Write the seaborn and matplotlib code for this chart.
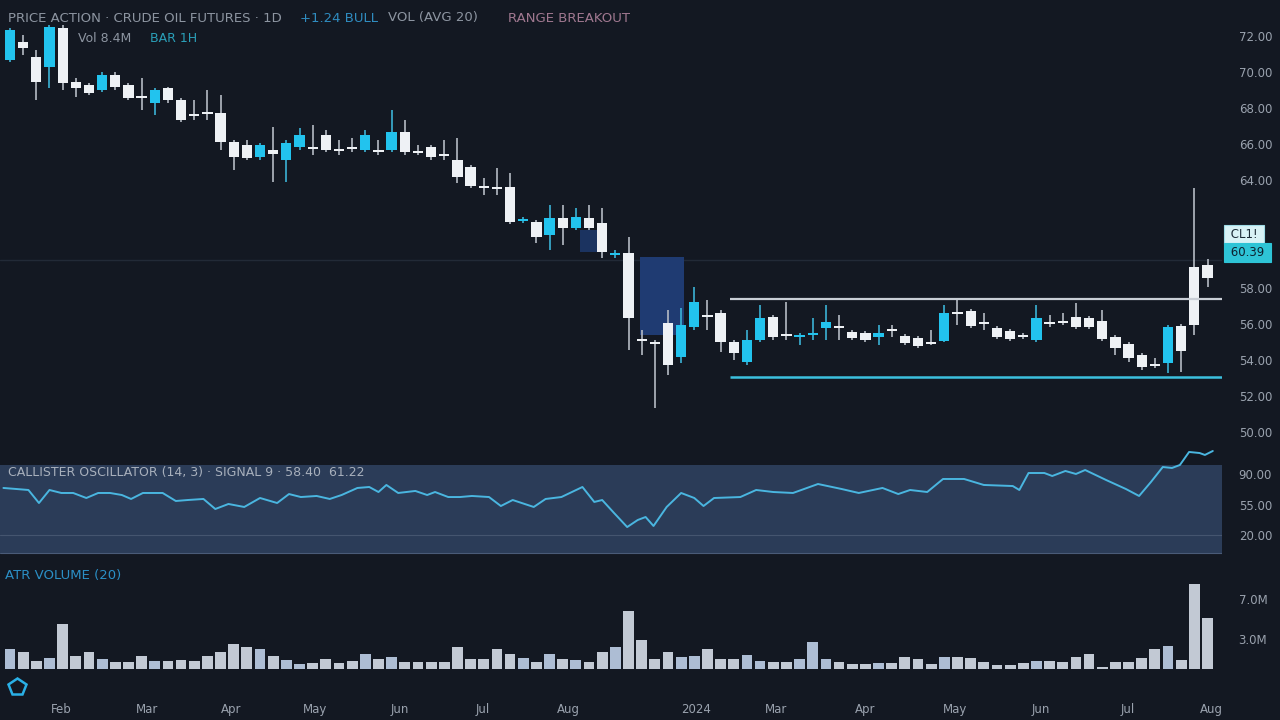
import numpy as np
import pandas as pd
import matplotlib
matplotlib.use("Agg")
import matplotlib.pyplot as plt
import matplotlib.transforms as mtransforms
from matplotlib.lines import Line2D
from matplotlib.patches import Rectangle
import seaborn as sns

# ---------------- data ----------------
opens = [70.67, 71.67, 70.83, 70.28, 72.44, 69.44, 69.28, 69.00, 69.83, 69.28,
         68.67, 68.28, 69.11, 68.44, 67.67, 67.78, 67.72, 66.11, 65.94, 65.28,
         65.67, 65.11, 65.83, 65.83, 66.50, 65.72, 65.83, 65.67, 65.67, 65.67,
         66.67, 65.61, 65.83, 65.44, 65.11, 64.72, 63.67, 63.61, 63.61, 61.72,
         61.67, 60.94, 61.89, 61.33, 61.89, 61.61, 59.83, 59.94, 55.17, 55.00,
         56.06, 54.17, 55.83, 56.50, 56.61, 55.00, 53.89, 55.11, 56.39, 55.44,
         55.28, 55.39, 55.78, 55.89, 55.56, 55.50, 55.28, 55.72, 55.33, 55.22,
         55.00, 55.06, 56.67, 56.72, 56.11, 55.78, 55.61, 55.39, 55.11, 56.11,
         56.17, 56.39, 56.33, 56.17, 55.28, 54.89, 54.28, 53.78, 53.83, 55.89,
         59.17, 59.28]
highs = [72.44, 72.06, 71.22, 72.61, 72.61, 69.67, 69.39, 70.00, 70.00, 69.39,
         69.67, 69.11, 69.17, 68.56, 68.44, 69.00, 68.72, 66.22, 66.22, 66.06,
         66.94, 66.22, 66.89, 67.06, 66.78, 66.22, 66.33, 66.78, 66.22, 67.89,
         67.33, 65.94, 65.94, 66.22, 66.33, 64.83, 64.11, 64.67, 64.39, 61.94,
         61.78, 62.61, 62.61, 62.44, 62.61, 62.44, 60.11, 60.83, 55.67, 55.11,
         56.78, 56.89, 58.06, 57.33, 56.78, 55.11, 55.67, 57.06, 56.50, 57.22,
         55.50, 56.33, 57.06, 56.50, 55.67, 55.61, 55.94, 55.94, 55.44, 55.33,
         55.67, 57.06, 57.33, 56.83, 56.61, 55.89, 55.72, 55.50, 57.06, 56.50,
         56.61, 57.17, 56.44, 56.78, 55.39, 55.00, 54.39, 54.11, 55.94, 56.00,
         63.56, 59.61]
lows = [70.56, 70.94, 68.44, 69.11, 69.00, 68.61, 68.72, 68.89, 69.00, 68.44,
        67.89, 67.61, 68.28, 67.22, 67.33, 67.33, 65.67, 64.56, 65.11, 65.11,
        63.89, 63.89, 65.67, 65.39, 65.56, 65.39, 65.56, 65.56, 65.39, 65.56,
        65.39, 65.39, 65.11, 65.11, 63.83, 63.56, 63.17, 63.17, 61.56, 61.61,
        60.50, 60.11, 60.39, 61.22, 61.22, 59.67, 59.67, 54.56, 54.28, 51.33,
        53.17, 53.83, 55.67, 55.67, 54.44, 54.00, 53.72, 55.00, 55.11, 55.11,
        54.83, 55.11, 55.11, 55.11, 55.11, 55.00, 54.83, 55.28, 54.83, 54.67,
        54.83, 55.00, 55.94, 55.78, 55.67, 55.17, 55.06, 55.17, 55.00, 55.83,
        55.94, 55.72, 55.72, 55.06, 54.28, 53.89, 53.44, 53.56, 53.28, 53.33,
        55.39, 58.06]
closes = [72.33, 71.33, 69.44, 72.50, 69.39, 69.11, 68.83, 69.83, 69.17, 68.56,
          68.56, 69.00, 68.44, 67.33, 67.56, 67.67, 66.11, 65.28, 65.22, 65.94,
          65.44, 66.06, 66.50, 65.72, 65.67, 65.61, 65.72, 66.50, 65.56, 66.67,
          65.56, 65.50, 65.28, 65.33, 64.17, 63.67, 63.56, 63.50, 61.67, 61.83,
          60.83, 61.89, 61.33, 61.94, 61.33, 60.00, 59.94, 56.33, 55.06, 54.89,
          53.72, 55.94, 57.22, 56.39, 55.00, 54.39, 55.11, 56.33, 55.28, 55.33,
          55.39, 55.50, 56.11, 55.78, 55.22, 55.11, 55.50, 55.61, 54.94, 54.78,
          54.89, 56.61, 56.56, 55.89, 56.00, 55.28, 55.17, 55.28, 56.33, 56.00,
          56.06, 55.83, 55.83, 55.17, 54.67, 54.11, 53.61, 53.67, 55.83, 54.50,
          55.94, 58.56]
volume_m = [2.0, 1.7, 0.8, 1.1, 4.5, 1.3, 1.7, 1.0, 0.7, 0.7,
            1.3, 0.8, 0.8, 0.9, 0.8, 1.3, 1.7, 2.5, 2.2, 2.0,
            1.3, 0.9, 0.5, 0.6, 1.0, 0.6, 0.8, 1.5, 1.0, 1.2,
            0.7, 0.7, 0.7, 0.7, 2.2, 1.0, 1.0, 2.0, 1.5, 1.1,
            0.7, 1.5, 1.0, 0.9, 0.7, 1.7, 2.2, 5.8, 2.9, 1.0,
            1.7, 1.2, 1.3, 2.0, 1.0, 1.0, 1.4, 0.8, 0.7, 0.7,
            1.0, 2.7, 1.0, 0.7, 0.5, 0.5, 0.6, 0.6, 1.2, 1.0,
            0.5, 1.2, 1.2, 1.1, 0.7, 0.4, 0.4, 0.6, 0.8, 0.8,
            0.7, 1.2, 1.5, 0.2, 0.7, 0.7, 1.1, 2.0, 2.3, 0.9,
            8.5, 5.1]
osc_pos = [-0.5, 0.5, 1.4, 2.2, 3.0, 3.9, 4.8, 5.8, 6.7, 7.6,
           8.5, 9.2, 10.1, 11.6, 12.6, 13.5, 14.7, 15.6, 16.6, 17.8,
           19.0, 20.3, 21.2, 22.1, 23.3, 24.3, 25.2, 26.4, 27.3, 28.0,
           28.6, 29.5, 30.8, 31.7, 32.3, 33.3, 34.2, 35.1, 36.4, 37.3,
           38.2, 39.8, 40.7, 41.9, 43.5, 44.4, 45.0, 45.9, 46.9, 47.7,
           48.3, 48.9, 49.9, 51.0, 52.0, 52.7, 53.5, 55.5, 56.7, 58.0,
           59.5, 61.4, 63.2, 64.5, 66.3, 67.5, 68.4, 69.7, 70.9, 72.5,
           74.0, 76.2, 76.7, 77.4, 78.6, 79.2, 80.2, 81.0, 81.7, 83.3,
           84.8, 85.8, 86.7, 87.6, 88.3, 88.9, 89.6, 90.4, 90.8, 91.4]
osc_vals = [73.9, 72.7, 71.6, 56.8, 71.6, 68.2, 68.2, 62.5, 68.2, 68.2,
            65.9, 61.4, 68.2, 68.2, 59.1, 60.2, 61.4, 50.0, 55.7, 52.3,
            62.5, 56.8, 67.0, 63.6, 64.8, 61.4, 65.9, 73.9, 75.0, 69.3,
            77.3, 68.2, 70.5, 65.9, 69.3, 63.6, 63.6, 64.8, 63.6, 53.4,
            60.2, 52.3, 61.4, 63.6, 75.0, 58.0, 60.2, 45.5, 29.5, 37.5,
            40.9, 30.7, 52.3, 68.2, 62.5, 53.4, 62.5, 63.6, 71.6, 69.3,
            68.2, 78.4, 72.7, 68.2, 73.9, 67.0, 71.6, 69.3, 84.1, 84.1,
            77.3, 76.1, 71.6, 90.9, 90.9, 87.5, 93.2, 89.8, 94.3, 82.9,
            72.7, 64.8, 80.7, 97.7, 96.6, 100.0, 114.8, 113.6, 111.4, 115.9]
date_pos = [3.9, 10.4, 16.8, 23.2, 29.6, 35.9, 42.4, 52.1, 58.2, 65.0, 71.8, 78.3, 84.9, 91.3]
date_labels = ["Feb", "Mar", "Apr", "May", "Jun", "Jul", "Aug", "2024",
               "Mar", "Apr", "May", "Jun", "Jul", "Aug"]
price_ticks = [50, 52, 54, 56, 58, 64, 66, 68, 70, 72]
osc_ticks = [20, 55, 90]
vol_ticks = [3.0, 7.0]
resistance = 57.39
support = 53.06
range_start = 54.7
ref_line = 59.56
zone_start = [43.3, 47.9]
zone_end = [44.6, 51.2]
zone_low = [60.00, 55.39]
zone_high = [61.22, 59.72]
last_price = 60.39

# ---------------- style ----------------
BG = "#131822"
TXT = "#9aa2ae"
WHITE = "#eef1f5"
CYAN = "#22c3ee"
sns.set_theme(style="dark", rc={"figure.facecolor": BG, "axes.facecolor": BG,
                                "axes.edgecolor": BG, "text.color": TXT,
                                "xtick.color": TXT, "ytick.color": TXT})
plt.rcParams['font.family'] = ['DejaVu Sans']

fig = plt.figure(figsize=(12.8, 7.2), dpi=100)
fig.patch.set_facecolor(BG)
W = 1222 / 1280
ax = fig.add_axes([0, 1 - 465 / 720, W, 465 / 720])
axi = fig.add_axes([0, 1 - 555 / 720, W, 115 / 720])
axv = fig.add_axes([0, 1 - 672 / 720, W, 117 / 720])
XL = (-0.76, 92.1)
for a in (ax, axi, axv):
    a.set_facecolor("none")
    for s in a.spines.values():
        s.set_visible(False)
    a.grid(False)

n = len(opens)
idx = np.arange(n)
o = np.array(opens); h = np.array(highs); l = np.array(lows); c = np.array(closes)
up = c > o
body_lo = np.minimum(o, c)
body_h = np.maximum(np.abs(c - o), 0.12)

# ---------------- price panel ----------------
ax.axhline(ref_line, color="#222a37", lw=1.0, zorder=0)
for x0, x1, y0, y1, col in zip(zone_start, zone_end, zone_low, zone_high, ["#1b3360", "#1f3b72"]):
    ax.add_patch(Rectangle((x0, y0), x1 - x0, y1 - y0, color=col, zorder=1, lw=0))
ax.vlines(idx, l, h, colors=np.where(up, "#3bb2d6", "#b5bbc4"), lw=1.2, zorder=2)
ax.bar(idx, body_h, bottom=body_lo, width=0.78, color=np.where(up, CYAN, WHITE),
       linewidth=0, zorder=3)
ax.hlines(resistance, range_start, XL[1], color="#c9ced6", lw=1.6, zorder=4)
ax.hlines(support, range_start, XL[1], color="#3cc0df", lw=1.8, zorder=4)
ax.set_xlim(*XL)
ax.set_ylim(48.17, 74.0)
ax.yaxis.tick_right()
ax.set_yticks(price_ticks)
ax.set_yticklabels([f"{v:.2f}" for v in price_ticks])
ax.tick_params(axis="y", length=0, pad=12, labelsize=8.5, labelcolor=TXT)
ax.set_xticks([])

tr = mtransforms.blended_transform_factory(ax.transAxes, ax.transData)
ax.text(1.004, 60.98, " CL1! ", transform=tr, ha="left", va="center", fontsize=8.5,
        color="#1a2a36", bbox=dict(boxstyle="square,pad=0.25", fc="#d8f2f6", ec="#9fdbe6", lw=0.8))
ax.text(1.004, 59.95, f" {last_price:.2f} ", transform=tr, ha="left", va="center", fontsize=8.5,
        color="#0e2230", bbox=dict(boxstyle="square,pad=0.25", fc="#2ec4d6", ec="#2ec4d6", lw=0.8))

# ---------------- oscillator panel ----------------
axi.axhspan(0, 100, color="#2b3c58", lw=0, zorder=0)
axi.axhline(20, color="#45556f", lw=0.8, zorder=1)
axi.axhline(0, color="#4a5b78", lw=0.8, zorder=1)
sns.lineplot(x=osc_pos, y=osc_vals, ax=axi, color="#4ab6e0", lw=1.4, zorder=3)
axi.set_xlim(*XL)
axi.set_ylim(-2.27, 128.4)
axi.yaxis.tick_right()
axi.set_yticks(osc_ticks)
axi.set_yticklabels([f"{v:.2f}" for v in osc_ticks])
axi.tick_params(axis="y", length=0, pad=12, labelsize=8.5, labelcolor=TXT)
axi.set_xticks([])
axi.set_xlabel(""); axi.set_ylabel("")
axi.text(8 / 1222, 92, "CALLISTER OSCILLATOR (14, 3) · SIGNAL 9 · 58.40  61.22",
         transform=mtransforms.blended_transform_factory(axi.transAxes, axi.transData),
         fontsize=9, color="#a8b0bc", va="center", ha="left", zorder=5)

# ---------------- volume panel ----------------
vdf = pd.DataFrame({"bar": idx, "vol": volume_m, "dir": np.where(up, "up", "down")})
sns.barplot(data=vdf, x="bar", y="vol", hue="dir", palette={"up": "#adbdd4", "down": "#c2c9d4"},
            native_scale=True, dodge=False, width=0.82, linewidth=0, saturation=1,
            legend=False, ax=axv)
axv.set_xlim(*XL)
axv.set_ylim(-0.3, 11.4)
axv.set_xlabel(""); axv.set_ylabel("")
axv.yaxis.tick_right()
axv.set_yticks(vol_ticks)
axv.set_yticklabels([f"{v:.1f}M" for v in vol_ticks])
axv.tick_params(axis="y", length=0, pad=12, labelsize=8.5, labelcolor=TXT)
axv.set_xticks(date_pos)
axv.set_xticklabels(date_labels)
axv.tick_params(axis="x", length=0, pad=22, labelsize=8.5, labelcolor=TXT)
axv.text(5 / 1222, 9.4, "ATR VOLUME (20)", transform=mtransforms.blended_transform_factory(axv.transAxes, axv.transData),
         fontsize=9.5, color="#2b8fc6", va="center", ha="left")

# ---------------- header ----------------
fy = 1 - 18 / 720
fig.text(8 / 1280, fy, "PRICE ACTION · CRUDE OIL FUTURES · 1D", fontsize=9.5, color="#8d95a1", va="center")
fig.text(300 / 1280, fy, "+1.24 BULL", fontsize=9.5, color="#2f8cc0", va="center")
fig.text(388 / 1280, fy, "VOL (AVG 20)", fontsize=9.5, color="#8d95a1", va="center")
fig.text(508 / 1280, fy, "RANGE BREAKOUT", fontsize=9.5, color="#a07890", va="center")
fy2 = 1 - 38 / 720
fig.text(78 / 1280, fy2, "Vol 8.4M", fontsize=9, color="#8d95a1", va="center")
fig.text(150 / 1280, fy2, "BAR 1H", fontsize=9, color="#2a9fb8", va="center")

fig.add_artist(Line2D([17 / 1280], [1 - 687 / 720], transform=fig.transFigure, marker="p",
                      markersize=13, markerfacecolor="none", markeredgecolor="#2ab0e6", mew=1.8))

fig.savefig("out.png", dpi=100, facecolor=BG)
